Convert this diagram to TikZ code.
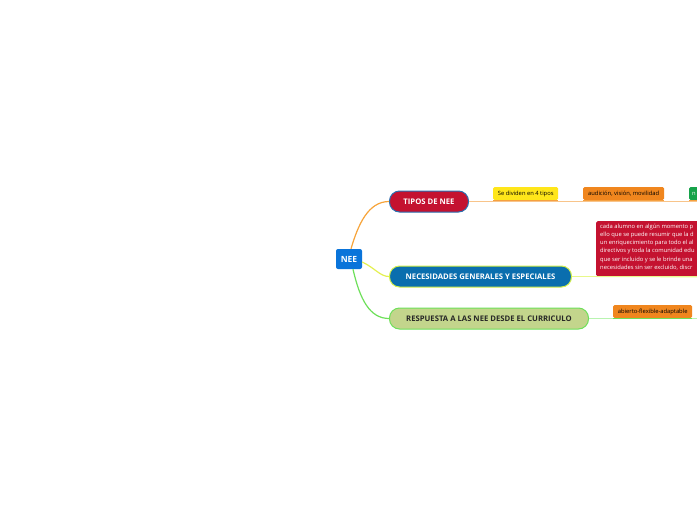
\documentclass[tikz,border=0pt]{standalone}
\usepackage{fontspec}
\setmainfont{Open Sans}
\usetikzlibrary{calc}
\definecolor{neeblue}{HTML}{0A74DA}
\definecolor{tiposred}{HTML}{C41230}
\definecolor{tiposborder}{HTML}{2A6FB0}
\definecolor{necblue}{HTML}{0A6EAE}
\definecolor{necborder}{HTML}{D4F04A}
\definecolor{respfill}{HTML}{C3D58C}
\definecolor{respborder}{HTML}{6EE05A}
\definecolor{orangebr}{HTML}{F7A43A}
\definecolor{yellowbr}{HTML}{E4F050}
\definecolor{greenbr}{HTML}{6EE05A}
\definecolor{lineorange}{HTML}{F8C48A}
\definecolor{lineyellow}{HTML}{E8F88A}
\definecolor{linegreen}{HTML}{B8F4B0}
\definecolor{boxyellow}{HTML}{FFE61A}
\definecolor{boxorange}{HTML}{F0861E}
\definecolor{boxgreen}{HTML}{16A34A}
\definecolor{boxred}{HTML}{C41230}
\definecolor{ulorange}{HTML}{F5A040}
\tikzset{
  mainnode/.style={rounded corners=10pt, minimum height=21pt, inner sep=0pt, font=\fontsize{7.7}{8}\selectfont\bfseries, line width=1pt, anchor=west},
  small/.style={rounded corners=1.5pt, minimum height=13pt, inner sep=0pt, font=\fontsize{5.8}{7}\selectfont, anchor=west}
}
\begin{document}
\begin{tikzpicture}[x=1pt,y=-1pt]
\useasboundingbox (0,0) rectangle (697,520);
\clip (0,0) rectangle (697,520);
\fill[white] (0,0) rectangle (697,520);
% root
\node[fill=neeblue, rounded corners=2pt, minimum width=26pt, minimum height=20pt, inner sep=0pt, text=white, font=\fontsize{8.5}{9}\selectfont\bfseries] (nee) at (349,259) {NEE};
% main nodes
\node[mainnode, fill=tiposred, draw=tiposborder, text=white, minimum width=79pt] (tipos) at (389,201.5) {TIPOS DE NEE};
\node[mainnode, fill=necblue, draw=necborder, text=white, minimum width=182pt] (nec) at (389,276.5) {NECESIDADES GENERALES Y ESPECIALES};
\node[mainnode, fill=respfill, draw=respborder, text=black!85, minimum width=199pt] (resp) at (389,318.5) {RESPUESTA A LAS NEE DESDE EL CURRICULO};
% branches
\draw[orangebr, line width=1.2pt] ($(nee.north)+(2,0)$) .. controls (358,225) and (368,201.5) .. (tipos.west);
\draw[yellowbr, line width=1.2pt] ($(nee.east)+(0,3)$) .. controls (375,268) and (380,276.5) .. (nec.west);
\draw[greenbr, line width=1.2pt] ($(nee.south)+(4,0)$) .. controls (360,300) and (370,318.5) .. (resp.west);
% second level lines
\coordinate (tend) at (700,201.5);
\coordinate (nend) at (700,277);
\coordinate (rend) at (700,318.5);
\draw[lineorange, line width=0.8pt] (tipos.east) -- (tend);
\draw[lineyellow, line width=0.8pt] (nec.east) -- (nend);
\draw[linegreen, line width=0.8pt] (resp.east) -- (rend);
% tipos children
\node[small, fill=boxyellow, minimum width=65pt] (div) at (493,193.5) {Se dividen en 4 tipos};
\draw[ulorange, line width=1pt] (div.south west) -- (div.south east);
\node[small, fill=boxorange, minimum width=81pt] (aud) at (583,193.5) {audición, visión, movilidad};
\draw[ulorange, line width=1pt] (aud.south west) -- (aud.south east);
\node[small, fill=boxgreen, text=white, minimum width=60pt, align=left, text width=56pt] (grn) at (689,193.5) {\hspace*{1pt}n};
\draw[ulorange, line width=1pt] (grn.south west) -- (grn.south east);
% red text box
\node[fill=boxred, rounded corners=1.5pt, anchor=north west, inner sep=0pt, minimum width=140pt, minimum height=55pt] (red) at (596,221) {};
\node[anchor=north west, text=white, align=left, inner sep=0pt, font=\fontsize{5.8}{8.1}\selectfont] (redtxt) at (600,224) {cada alumno en algún momento p\\ello que se puede resumir que la d\\un enriquecimiento para todo el al\\directivos y toda la comunidad edu\\que ser incluido y se le brinde una\\necesidades sin ser excluido, discr};
\draw[lineyellow, line width=1pt] (red.south west) -- (red.south east);
% resp child
\node[small, fill=boxorange, minimum width=79pt] (abi) at (613,311.5) {abierto-flexible-adaptable};
\draw[greenbr, line width=1pt] (abi.south west) -- (abi.south east);
\end{tikzpicture}
\end{document}
